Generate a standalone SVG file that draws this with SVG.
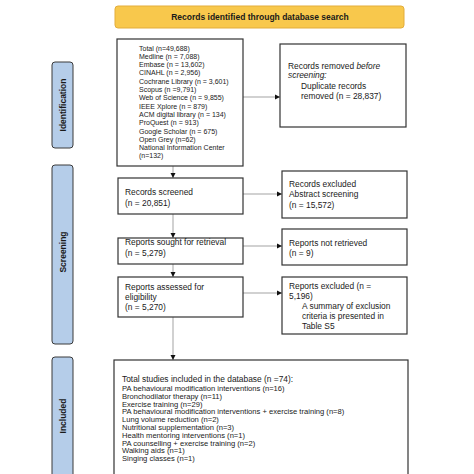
<svg xmlns="http://www.w3.org/2000/svg" width="474" height="474" viewBox="0 0 474 474">
<style>
.box{fill:#fff;stroke:#333;stroke-width:1.2}
.lab{fill:#b5cde9;stroke:#3a3a3a;stroke-width:1}
.t{font-family:"Liberation Sans",Arial,sans-serif;font-size:7px;fill:#1a1a1a}
.l{font-family:"Liberation Sans",Arial,sans-serif;font-size:7.6px;fill:#1a1a1a}
.m{font-family:"Liberation Sans",Arial,sans-serif;font-size:8.4px;fill:#1a1a1a}
.lt{font-family:"Liberation Sans",Arial,sans-serif;font-size:8.5px;font-weight:bold;fill:#1a1a1a}
.con{stroke:#999;stroke-width:0.9;fill:none}
</style>
<defs>
<marker id="ah" markerWidth="6" markerHeight="6" refX="5" refY="3" orient="auto" markerUnits="userSpaceOnUse">
<path d="M0,0.5 L5,3 L0,5.5 Z" fill="#111"/>
</marker>
</defs>
<rect width="474" height="474" fill="#fff"/>
<g id="header">
<rect x="115" y="6" width="289" height="22" rx="3" fill="#f8c84c" stroke="#e3ad3a" stroke-width="1"/>
<text x="260" y="20" text-anchor="middle" class="lt">Records identified through database search</text>
</g>
<g id="label-identification">
<rect class="lab" x="52" y="62" width="21" height="86" rx="3"/>
<text class="lt" transform="translate(66,105) rotate(-90)" text-anchor="middle">Identification</text>
</g>
<g id="label-screening">
<rect class="lab" x="52" y="165" width="21" height="179" rx="3"/>
<text class="lt" transform="translate(66,252) rotate(-90)" text-anchor="middle">Screening</text>
</g>
<g id="label-included">
<rect class="lab" x="52" y="357" width="21" height="130" rx="3"/>
<text class="lt" transform="translate(66,416) rotate(-90)" text-anchor="middle">Included</text>
</g>
<g id="connectors">
<line class="con" x1="243" y1="97" x2="280" y2="97" marker-end="url(#ah)"/>
<line class="con" x1="173" y1="166" x2="173" y2="178" marker-end="url(#ah)"/>
<line class="con" x1="243" y1="194" x2="282" y2="194" marker-end="url(#ah)"/>
<line class="con" x1="173" y1="214" x2="173" y2="238" marker-end="url(#ah)"/>
<line class="con" x1="243" y1="246" x2="282" y2="246" marker-end="url(#ah)"/>
<line class="con" x1="173" y1="264" x2="173" y2="277" marker-end="url(#ah)"/>
<line class="con" x1="243" y1="293" x2="282" y2="293" marker-end="url(#ah)"/>
<line class="con" x1="173" y1="317" x2="173" y2="360" marker-end="url(#ah)"/>
</g>
<g id="total">
<rect class="box" x="117" y="39" width="126" height="127"/>
<text class="t" x="139" y="50.5">Total (n=49,688)</text>
<text class="t" x="139" y="58.8">Medline (n = 7,088)</text>
<text class="t" x="139" y="67.1">Embase (n = 13,602)</text>
<text class="t" x="139" y="75.4">CINAHL (n = 2,956)</text>
<text class="t" x="139" y="83.7">Cochrane Library (n = 3,601)</text>
<text class="t" x="139" y="92">Scopus (n =9,791)</text>
<text class="t" x="139" y="100.3">Web of Science (n = 9,855)</text>
<text class="t" x="139" y="108.6">IEEE Xplore (n = 879)</text>
<text class="t" x="139" y="116.9">ACM digital library (n = 134)</text>
<text class="t" x="139" y="125.2">ProQuest (n = 913)</text>
<text class="t" x="139" y="133.5">Google Scholar (n = 675)</text>
<text class="t" x="139" y="141.8">Open Grey (n=62)</text>
<text class="t" x="139" y="150.1">National Information Center</text>
<text class="t" x="139" y="158.4">(n=132)</text>
</g>
<g id="removed">
<rect class="box" x="280" y="44" width="126" height="83"/>
<text class="m" x="288" y="69">Records removed <tspan font-style="italic">before</tspan></text>
<text class="m" x="288" y="77.5" font-style="italic">screening:</text>
<text class="m" x="301" y="89">Duplicate records</text>
<text class="m" x="301" y="99">removed (n = 28,837)</text>
</g>
<g id="screened">
<rect class="box" x="118" y="178" width="125" height="36"/>
<text class="m" x="125" y="195">Records screened</text>
<text class="m" x="125" y="206">(n = 20,851)</text>
</g>
<g id="excluded-abstract">
<rect class="box" x="282" y="171" width="125" height="47"/>
<text class="m" x="289" y="187">Records excluded</text>
<text class="m" x="289" y="197">Abstract screening</text>
<text class="m" x="289" y="207.5">(n = 15,572)</text>
</g>
<g id="sought">
<rect class="box" x="118" y="238" width="125" height="26"/>
<text class="m" x="125" y="245">Reports sought for retrieval</text>
<text class="m" x="125" y="255.5">(n = 5,279)</text>
</g>
<g id="not-retrieved">
<rect class="box" x="282" y="229" width="125" height="36"/>
<text class="m" x="289" y="246">Reports not retrieved</text>
<text class="m" x="289" y="256">(n = 9)</text>
</g>
<g id="assessed">
<rect class="box" x="118" y="277" width="125" height="40"/>
<text class="m" x="125" y="290">Reports assessed for</text>
<text class="m" x="125" y="300">eligibility</text>
<text class="m" x="125" y="310">(n = 5,270)</text>
</g>
<g id="excluded-reports">
<rect class="box" x="282" y="277" width="125" height="57"/>
<text class="m" x="289" y="289">Reports excluded (n =</text>
<text class="m" x="289" y="299">5,196)</text>
<text class="m" x="302" y="309">A summary of exclusion</text>
<text class="m" x="302" y="319">criteria is presented in</text>
<text class="m" x="302" y="329">Table S5</text>
</g>
<g id="included">
<rect class="box" x="114" y="360" width="294" height="120"/>
<text class="m" x="122" y="382" font-size="8.7px">Total studies included in the database (n =74):</text>
<text class="l" x="122" y="391">PA behavioural modification interventions (n=16)</text>
<text class="l" x="122" y="398.8">Bronchodilator therapy (n=11)</text>
<text class="l" x="122" y="406.6">Exercise training (n=29)</text>
<text class="l" x="122" y="414.4">PA behavioural modification interventions + exercise training (n=8)</text>
<text class="l" x="122" y="422.2">Lung volume reduction (n=2)</text>
<text class="l" x="122" y="430">Nutritional supplementation (n=3)</text>
<text class="l" x="122" y="437.8">Health mentoring interventions (n=1)</text>
<text class="l" x="122" y="445.6">PA counselling + exercise training (n=2)</text>
<text class="l" x="122" y="453.4">Walking aids (n=1)</text>
<text class="l" x="122" y="461.2">Singing classes (n=1)</text>
</g>
</svg>
